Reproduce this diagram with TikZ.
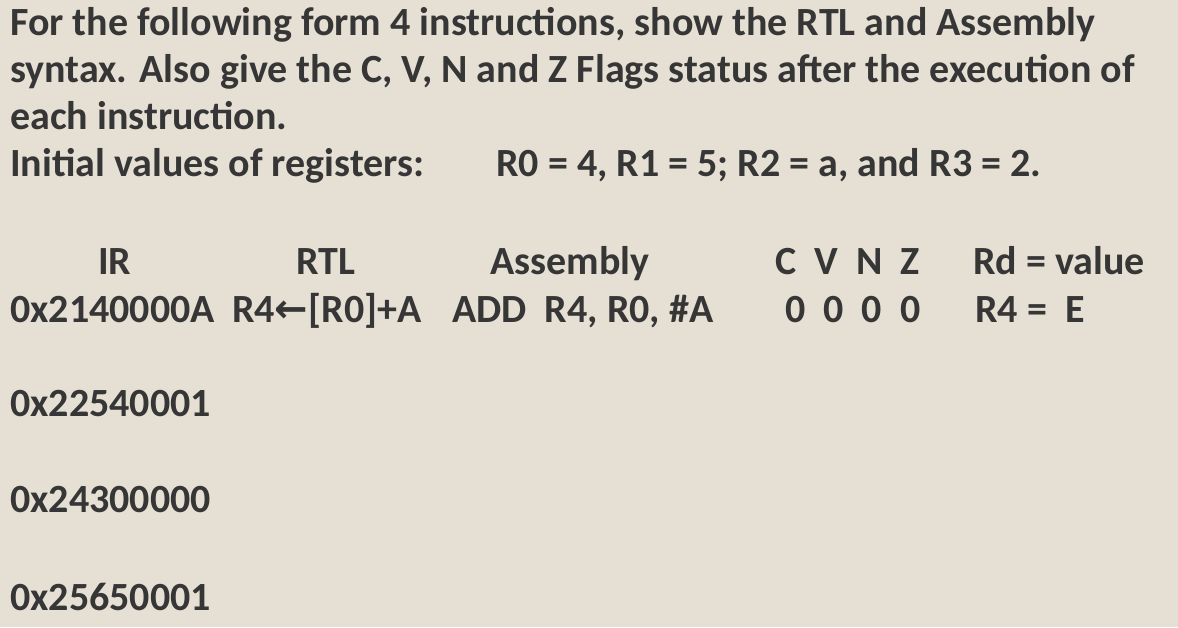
\documentclass[tikz,border=0pt]{standalone}
\usepackage{fontspec}
\setmainfont{Carlito}
\newfontfamily\arrowfont{DejaVu Sans}
\definecolor{bg}{HTML}{E6E0D4}
\definecolor{txt}{HTML}{363636}
\begin{document}
\begin{tikzpicture}[x=1pt,y=-1pt,
  t/.style={anchor=base west,inner sep=0pt,text=txt,font=\fontsize{40}{46}\selectfont\bfseries}]
\fill[bg] (0,0) rectangle (1178,627);
\useasboundingbox (0,0) rectangle (1178,627);
\node[t] (l1) at (10,35) {For the following form 4 instructions, show the RTL and Assembly};
\node[t] (l2) at (10,82) {syntax. Also give the C, V, N and Z Flags status after the execution of};
\node[t] (l3) at (10,129) {each instruction.};
\node[t] (l4) at (10,176) {Initial values of registers:};
\node[t] (l4b) at (496,176) {R0 = 4, R1 = 5; R2 = a, and R3 = 2.};
\node[t] (hir) at (98,274) {IR};
\node[t] (hrtl) at (296,274) {RTL};
\node[t] (hasm) at (490,274) {Assembly};
\node[t] (hf) at (775,274) {C\ \ V\ \ N\ \ Z};
\node[t] (hrd) at (973,274) {Rd = value};
\node[t] (r1) at (10,322) {0x2140000A};
\node[t] (r1b) at (232,322) {R4{\arrowfont ←}[R0]+A};
\node[t] (r1c) at (452,322) {ADD\ \ R4, R0, \#A};
\node[t] (r1d) at (785,322) {0\ \ 0\ \ 0\ \ 0};
\node[t] (r1e) at (975,322) {R4 =\ \ E};
\node[t] (r2) at (10,416) {0x22540001};
\node[t] (r3) at (10,512) {0x24300000};
\node[t] (r4) at (10,610) {0x25650001};
\end{tikzpicture}
\end{document}
